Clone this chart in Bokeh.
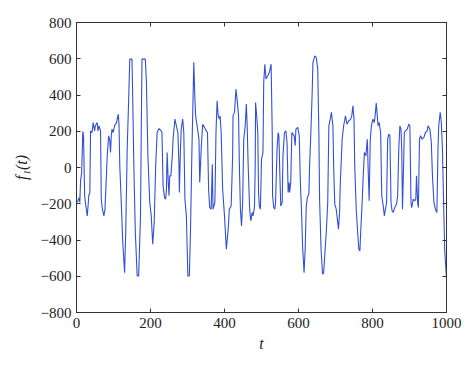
from bokeh.plotting import figure
from bokeh.models import Range1d, LinearAxis, FixedTicker, CustomJSTickFormatter
from bokeh.embed import file_html
from bokeh.resources import INLINE

# signal samples: time t and value f1(t)
T = [0, 4, 7, 9, 11, 14, 17, 19, 22, 24, 29, 32, 33, 36, 38, 42, 45, 49, 51, 56, 58, 61, 65, 67, 70, 74, 77,
     83, 87, 90, 92, 94, 96, 99, 103, 108, 113, 115, 117, 121, 125, 130, 133, 137, 141, 144, 150, 152, 155,
     159, 164, 168, 173, 175, 177, 186, 189, 193, 198, 202, 206, 210, 214, 218, 223, 229,
     231, 234, 238, 241, 243, 245, 248, 250, 252, 255, 259, 261, 266, 270, 274, 277, 278, 281, 283, 287,
     290, 293, 297, 301, 305, 308, 312, 313, 317, 320, 322, 326, 331, 333, 337, 341, 346, 351, 354, 357,
     360, 364, 367, 369, 374, 377, 380, 383, 386, 388, 391, 395, 400, 405, 410, 413, 418, 422, 423, 427,
     431, 434, 438, 440, 443, 446, 449, 452, 456, 459, 461, 464, 468, 471, 475, 477, 481, 483, 484, 487,
     490, 492, 494, 497, 500, 502, 504, 506, 509, 512, 517, 521, 526, 529, 530, 533, 536, 538, 542, 545,
     547, 549, 552, 556, 558, 562, 566, 569, 572, 575, 576, 579, 582, 585, 588, 591, 593, 598, 602, 605,
     608, 611, 615, 618, 621, 624, 628, 630, 634, 637, 639, 644, 648, 652, 655, 657, 661, 665, 668, 672,
     675, 679, 682, 685, 689, 693, 695, 698, 702, 705, 708, 711, 713, 718, 722, 727, 731, 736, 740, 744,
     747, 750, 752, 756, 760, 763, 766, 768, 772, 775, 778, 782, 786, 788, 791, 794, 797, 801, 805, 808,
     810, 813, 815, 818, 822, 825, 829, 832, 835, 838, 841, 844, 847, 850, 853, 856, 860, 865, 868, 871,
     874, 877, 879, 881, 884, 886, 889, 894, 898, 901, 904, 906, 910, 914, 917, 919, 922, 924, 927, 930,
     934, 939, 943, 948, 950, 955, 959, 962, 966, 970, 974, 977, 979, 983, 986, 989, 993, 995, 999, 1000]
V = [-193, -184, -166, -193, -74, -28, 199, 175, -156, -193, -267, -193, -156, -138, 202, 193, 248, 202,
     230, 248, 202, 230, 202, -175, -230, -267, -230, 64, 175, 147, 83, 175, 212, 193, 230, 248, 294, 230,
     9, -193, -414, -580, -359, 101, 377, 598, 598, 377, 9, -359, -598, -598, -267, 193, 598, 598, 469, 64,
     -193, -267, -423, -304, 9, 193, 215, 202,
     193, -101, -166, -175, -120, 83, -83, -156, -46, -46, 64, 156, 267, 230, 193, 9, -138, 101, 212, 267,
     193, -175, -267, -598, -598, -359, 101, 193, 580, 377, 285, 230, 156, -83, 101, 239, 221, 202, 193,
     -120, -221, -230, 18, -230, -193, 193, 368, 285, 267, 285, 193, -120, -267, -451, -340, -230, -212,
     64, 285, 304, 432, 377, 285, 28, -230, -322, -193, 156, 230, 350, 248, 9, -230, -294, -248, -267,
     -221, 9, 359, 285, 193, -138, -212, -230, 46, 64, 83, 469, 570, 488, 506, 524, 570, 193, -156, -221,
     -230, -193, 101, 193, 175, 9, -212, -193, 64, 193, 202, 138, -138, -83, -138, -83, 193, 184, 175,
     120, 212, 221, 175, -83, -230, -432, -580, -451, -212, -166, -147, 9, 230, 414, 580, 616, 607, 543,
     193, -175, -451, -589, -580, -451, -359, -193, 230, 258, 304, 230, 9, -202, -230, -285, -340, -248,
     -83, 156, 230, 285, 239, 258, 263, 285, 340, 267, 9, -230, -359, -451, -460, -359, -193, -46, 83, 64,
     156, 9, -184, 156, 230, 267, 248, 304, 355, 285, 230, 248, 193, -156, -212, -267, -230, -193, 156,
     184, 175, -193, -239, -248, -221, -202, -156, 101, 230, 212, 101, -230, 9, 193, 202, 212, 239, 230,
     -193, -221, -175, -184, -175, -46, -193, -221, 156, 175, 156, 166, 193, 202, 230, 212, 138, -46,
     -193, -230, -248, 101, 230, 304, 248, 101, -267, -451, -580, -610]

X_TICKS = [0, 200, 400, 600, 800, 1000]
Y_TICKS = [-800, -600, -400, -200, 0, 200, 400, 600, 800]


def lab(v):
    return ("\u2212" + str(abs(v))) if v < 0 else str(v)


FONT = "'Liberation Serif', 'DejaVu Serif', serif"
p = figure(width=466, height=360, output_backend="svg", toolbar_location=None,
           x_range=Range1d(0, 1000), y_range=Range1d(-800, 800),
           x_axis_location=None, y_axis_location=None,
           min_border_left=76, min_border_right=20, min_border_top=22, min_border_bottom=48)
p.background_fill_color = "white"
p.border_fill_color = "white"
p.outline_line_color = "#333333"
p.grid.grid_line_color = None

p.line(T, V, line_color="#3350d4", line_width=1.1)

bottom = LinearAxis(ticker=FixedTicker(ticks=X_TICKS), axis_label="t")
left = LinearAxis(ticker=FixedTicker(ticks=Y_TICKS), axis_label="f\u2081(t)")
top = LinearAxis(ticker=FixedTicker(ticks=X_TICKS))
right = LinearAxis(ticker=FixedTicker(ticks=Y_TICKS))
p.add_layout(bottom, "below")
p.add_layout(left, "left")
p.add_layout(top, "above")
p.add_layout(right, "right")

for ax in [bottom, left, top, right]:
    ax.axis_line_color = "#333333"
    ax.major_tick_line_color = "#333333"
    ax.major_tick_in = 4
    ax.major_tick_out = 0
    ax.minor_tick_line_color = None
    ax.major_label_text_font = FONT
    ax.major_label_text_font_size = "15px"
    ax.major_label_text_font_style = "normal"
    ax.major_label_text_color = "#222222"
    ax.major_label_standoff = 5
    ax.axis_label_text_font = FONT
    ax.axis_label_text_font_size = "16px"
    ax.axis_label_text_font_style = "italic"
    ax.axis_label_text_color = "#222222"

for ax in [top, right]:
    ax.formatter = CustomJSTickFormatter(code="return '';")
    ax.major_label_standoff = 0

bottom.major_label_overrides = {v: lab(v) for v in X_TICKS}
left.major_label_overrides = {v: lab(v) for v in Y_TICKS}
bottom.axis_label_standoff = 4
left.axis_label_standoff = 8

open("out.html", "w").write(file_html(p, INLINE))
